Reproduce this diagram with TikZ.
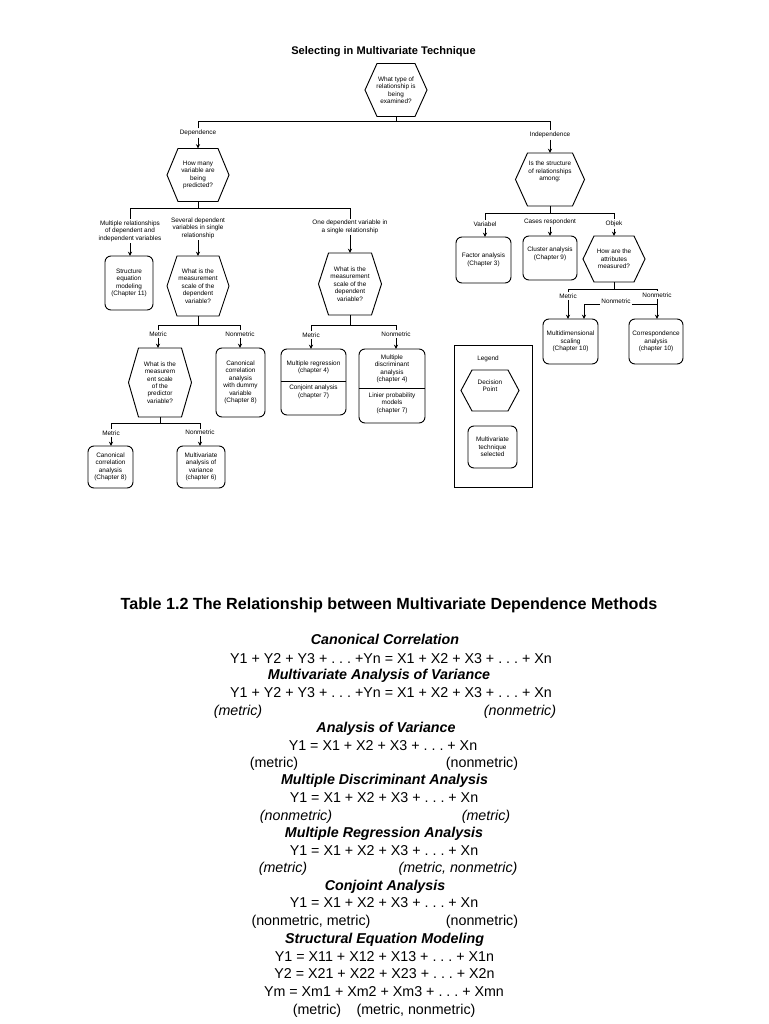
\documentclass[tikz,border=0pt]{standalone}
\usepackage{fontspec}
\setmainfont{Liberation Sans}
\usetikzlibrary{arrows.meta,calc}
\frenchspacing
\newcommand\dgfont{\fontsize{4.8}{5.6}\selectfont}
\newcommand\eqfont{\fontsize{10.7}{12}\selectfont}
\newcommand\hexdraw[2]{\draw (#1.west) -- ($(#1.north west)+(#2,0)$) -- ($(#1.north east)+(-#2,0)$) -- (#1.east) -- ($(#1.south east)+(-#2,0)$) -- ($(#1.south west)+(#2,0)$) -- cycle;}
\begin{document}
\begin{tikzpicture}[x=0.75pt,y=-0.75pt,line width=0.7pt,
  every node/.style={outer sep=0pt},
  lab/.style={font=\dgfont, align=center, inner sep=1.2pt},
  hexn/.style={font=\dgfont, align=center, inner sep=0pt},
  rbox/.style={draw, rounded corners=4.5pt, font=\dgfont, align=center, inner sep=0pt},
  arr/.style={-{Stealth[length=3.2pt,width=3pt]}},
  eqn/.style={font=\eqfont, anchor=base, inner sep=0pt},
  hd/.style={font=\eqfont\bfseries\itshape, anchor=base, inner sep=0pt},
  itn/.style={font=\eqfont\itshape, anchor=base, inner sep=0pt}]
\fill[white] (0,0) rectangle (768,1024);
\useasboundingbox (0,0) rectangle (768,1024);

% helper rows
\coordinate (r0) at (0,121);
\coordinate (r1) at (0,208);
\coordinate (r2) at (0,325);
\coordinate (r3) at (0,423);
\coordinate (r4) at (0,213);
\coordinate (r5) at (0,289);
\coordinate (r6) at (0,304);
\coordinate (c584) at (584,0);
\coordinate (d1) at (0,381);
\coordinate (d2) at (0,388);

% title
\node[font=\fontsize{8.3}{10}\selectfont\bfseries, anchor=base, inner sep=0pt] (title) at (383.5,55) {Selecting in Multivariate Technique};

% hexagons (decision points)
\node[hexn, minimum width=46.5pt, minimum height=39.75pt] (q0) at (396,90) {What type of\\relationship is\\being\\examined?};
\hexdraw{q0}{12}
\node[hexn, minimum width=46.5pt, minimum height=39.75pt] (q1) at (198,175) {How many\\variable are\\being\\predicted?};
\hexdraw{q1}{11}
\node[hexn, minimum width=46.5pt, minimum height=45pt] (q2) at (198,286) {What is the\\measurement\\scale of the\\dependent\\variable?};
\hexdraw{q2}{10}
\node[hexn, minimum width=47.25pt, minimum height=46.5pt] (q3) at (350,284) {What is the\\measurement\\scale of the\\dependent\\variable?};
\hexdraw{q3}{10}
\node[hexn, minimum width=47.25pt, minimum height=51.75pt] (q4) at (160,382.5) {What is the\\measurem\\ent scale\\of the\\predictor\\variable?};
\hexdraw{q4}{10}
\node[hexn, minimum width=51.75pt, minimum height=39.75pt] (q5) at (550,179.5) {};
\hexdraw{q5}{12}
\node[hexn] (q5t) at (550,171.5) {Is the structure\\of relationships\\among:};
\node[hexn, minimum width=46.5pt, minimum height=34.5pt] (q6) at (614,259) {How are the\\attributes\\measured?};
\hexdraw{q6}{11}

% technique boxes
\node[rbox, minimum width=36pt, minimum height=40.5pt] (sem) at (129,283) {Structure\\equation\\modeling\\(Chapter 11)};
\node[rbox, minimum width=33.75pt, minimum height=31.5pt] (cca) at (110.5,467) {Canonical\\correlation\\analysis\\(Chapter 8)};
\node[rbox, minimum width=36pt, minimum height=31.5pt] (manova) at (201,467) {Multivariate\\analysis of\\variance\\(chapter 6)};
\node[rbox, minimum width=36.75pt, minimum height=51.75pt] (ccad) at (240.5,382.5) {Canonical\\correlation\\analysis\\with dummy\\variable\\(Chapter 8)};
\node[rbox, minimum width=48.75pt, minimum height=49.5pt] (mreg) at (313.5,382) {};
\draw (mreg.west |- d1) -- (mreg.east |- d1);
\node[hexn] (mreg1) at (313.5,367.5) {Multiple regression\\(chapter 4)};
\node[hexn] (mreg2) at (313.5,392) {Conjoint analysis\\(chapter 7)};
\node[rbox, minimum width=49.5pt, minimum height=55.5pt] (mda) at (392,386) {};
\draw (mda.west |- d2) -- (mda.east |- d2);
\node[hexn] (mda1) at (392,369) {Multiple\\discriminant\\analysis\\(chapter 4)};
\node[hexn] (mda2) at (392,403) {Linier probability\\models\\(chapter 7)};
\node[rbox, minimum width=41.25pt, minimum height=34.5pt] (factor) at (483.5,260) {Factor analysis\\(Chapter 3)};
\node[rbox, minimum width=40.5pt, minimum height=33pt] (cluster) at (550,258) {};
\node[hexn] (clustert) at (550,254) {Cluster analysis\\(Chapter 9)};
\node[rbox, minimum width=41.25pt, minimum height=33.75pt] (mds) at (570.5,341.5) {Multidimensional\\scaling\\(Chapter 10)};
\node[rbox, minimum width=40.5pt, minimum height=33.75pt] (corr) at (656,341.5) {Correspondence\\analysis\\(chapter 10)};

% legend
\node[draw, minimum width=58.5pt, minimum height=106.5pt, inner sep=0pt] (legbox) at (493,416) {};
\node[lab] (legt) at (488,359) {Legend};
\node[hexn, minimum width=43.5pt, minimum height=30.75pt] (qL) at (490,390.5) {};
\hexdraw{qL}{11}
\node[hexn] (qLt) at (490,385.5) {Decision\\Point};
\node[rbox, minimum width=36.75pt, minimum height=31.5pt] (legr) at (492.5,447) {Multivariate\\technique\\selected};

% branch labels
\node[lab] (lDep) at (198,133) {Dependence};
\node[lab] (lInd) at (550,135) {Independence};
\node[lab] (la) at (130,231) {Multiple relationships\\of dependent and\\independent variables};
\node[lab] (lb) at (198,228) {Several dependent\\variables in single\\relationship};
\node[lab] (lc) at (350,227) {One dependent variable in\\a single relationship};
\node[lab] (lm1) at (158,334) {Metric};
\node[lab] (ln1) at (240,334) {Nonmetric};
\node[lab] (lm2) at (111,433) {Metric};
\node[lab] (ln2) at (200,432.5) {Nonmetric};
\node[lab] (lm3) at (311,335) {Metric};
\node[lab] (ln3) at (396,334) {Nonmetric};
\node[lab] (lv) at (485,224) {Variabel};
\node[lab] (lcr) at (550,222) {Cases respondent};
\node[lab] (lo) at (614,224) {Objek};
\node[lab] (lm4) at (568,296) {Metric};
\node[lab] (ln4) at (657,295) {Nonmetric};
\node[lab] (ln5) at (616,301) {Nonmetric};

% connectors
\draw (q0.south) -- (q0.south |- r0);
\draw (lDep.north) -- (lDep.north |- r0) -- (lInd.north |- r0) -- (lInd.north);
\draw[arr] (lDep.south) -- (q1.north);
\draw[arr] (lInd.south) -- (q5.north);

\draw (q1.south) -- (q1.south |- r1);
\draw (la.north) -- (la.north |- r1) -- (lc.north |- r1) -- (lc.north);
\draw[arr] (la.south) -- (la.south |- sem.north);
\draw[arr] (lb.south) -- (q2.north);
\draw[arr] (lc.south) -- (q3.north);

\draw (q2.south) -- (q2.south |- r2);
\draw (lm1.north) -- (lm1.north |- r2) -- (ln1.north |- r2) -- (ln1.north);
\draw[arr] (lm1.south) -- (lm1.south |- q4.north);
\draw[arr] (ln1.south) -- (ln1.south |- ccad.north);

\draw (q4.south) -- (q4.south |- r3);
\draw (lm2.north) -- (lm2.north |- r3) -- (ln2.north |- r3) -- (ln2.north);
\draw[arr] (lm2.south) -- (lm2.south |- cca.north);
\draw[arr] (ln2.south) -- (ln2.south |- manova.north);

\draw (q3.south) -- (q3.south |- r2);
\draw (lm3.north) -- (lm3.north |- r2) -- (ln3.north |- r2) -- (ln3.north);
\draw[arr] (lm3.south) -- (lm3.south |- mreg.north);
\draw[arr] (ln3.south) -- (ln3.south |- mda.north);

\draw (q5.south) -- (q5.south |- r4);
\draw (lv.north) -- (lv.north |- r4) -- (lo.north |- r4) -- (lo.north);
\draw[arr] (lv.south) -- (lv.south |- factor.north);
\draw[arr] (lcr.south) -- (lcr.south |- cluster.north);
\draw[arr] (lo.south) -- (q6.north);

\draw (q6.south) -- (q6.south |- r5);
\draw (lm4.north) -- (lm4.north |- r5) -- (ln4.north |- r5) -- (ln4.north);
\draw[arr] (lm4.south) -- (lm4.south |- mds.north);
\draw[arr] (ln4.south) -- (ln4.south |- corr.north);
\draw[arr] (ln5.west |- r6) -- (c584 |- r6) -- (c584 |- mds.north);
\draw (ln5.east |- r6) -- (ln4.south |- r6);

% table
\node[font=\fontsize{12.1}{14}\selectfont\bfseries, anchor=base, inner sep=0pt] (tt) at (389,609.8) {Table 1.2 The Relationship between Multivariate Dependence Methods};
\node[hd] (h1) at (385,644) {Canonical Correlation};
\node[eqn] (e1) at (391,663) {Y1 + Y2 + Y3 + . . . +Yn = X1 + X2 + X3 + . . . + Xn};
\node[hd] (h2) at (379,679) {Multivariate Analysis of Variance};
\node[eqn] (e2) at (391,697) {Y1 + Y2 + Y3 + . . . +Yn = X1 + X2 + X3 + . . . + Xn};
\node[itn] (i1) at (238,715) {(metric)};
\node[itn] (i2) at (520,715) {(nonmetric)};
\node[hd] (h3) at (386,732) {Analysis of Variance};
\node[eqn] (e3) at (383,750) {Y1 = X1 + X2 + X3 + . . . + Xn};
\node[eqn] (p1) at (274,767) {(metric)};
\node[eqn] (p2) at (482,767) {(nonmetric)};
\node[hd] (h4) at (384.5,784) {Multiple Discriminant Analysis};
\node[eqn] (e4) at (384,802) {Y1 = X1 + X2 + X3 + . . . + Xn};
\node[itn] (i3) at (296,820) {(nonmetric)};
\node[itn] (i4) at (486,820) {(metric)};
\node[hd] (h5) at (384,837) {Multiple Regression Analysis};
\node[eqn] (e5) at (384,855) {Y1 = X1 + X2 + X3 + . . . + Xn};
\node[itn] (i5) at (283,872) {(metric)};
\node[itn] (i6) at (458,872) {(metric, nonmetric)};
\node[hd] (h6) at (385,890) {Conjoint Analysis};
\node[eqn] (e6) at (384,907) {Y1 = X1 + X2 + X3 + . . . + Xn};
\node[eqn] (p3) at (311,925) {(nonmetric, metric)};
\node[eqn] (p4) at (482,925) {(nonmetric)};
\node[hd] (h7) at (384.5,943) {Structural Equation Modeling};
\node[eqn] (e7) at (384.5,961) {Y1 = X11 + X12 + X13 + . . . + X1n};
\node[eqn] (e8) at (384.5,978) {Y2 = X21 + X22 + X23 + . . . + X2n};
\node[eqn] (e9) at (384,996) {Ym = Xm1 + Xm2 + Xm3 + . . . + Xmn};
\node[eqn] (p5) at (317,1014) {(metric)};
\node[eqn] (p6) at (416,1014) {(metric, nonmetric)};
\end{tikzpicture}
\end{document}
